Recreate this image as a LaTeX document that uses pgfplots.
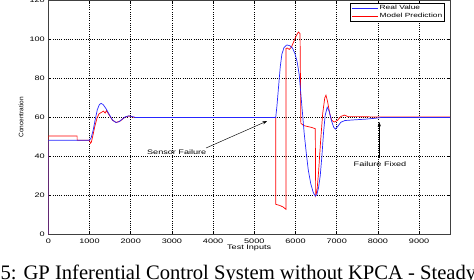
\documentclass[border=0pt]{standalone}
\usepackage{fontspec}
\usepackage{pgfplots}
\pgfplotsset{compat=1.18}
\usetikzlibrary{arrows.meta}
\newfontfamily\mlfont[FakeStretch=1.4]{Liberation Sans}
\newfontfamily\mlplain{Liberation Sans}
\newfontfamily\capfont{Liberation Serif}
\begin{document}
\begin{tikzpicture}[x=1pt,y=1pt]
\path[use as bounding box] (0,0) rectangle (474,279);
\clip (0,0) rectangle (474,279);
\begin{axis}[
  at={(48.3pt,44.7pt)}, anchor=south west,
  width=401.7pt, height=233.8pt, scale only axis,
  xmin=0, xmax=9750, ymin=0, ymax=120,
  xtick={0,1000,...,9000}, ytick={0,20,...,120},
  scaled x ticks=false, scaled y ticks=false,
  /pgf/number format/1000 sep={},
  /pgf/number format/assume math mode=true,
  tick label style={font=\mlfont\fontsize{6.5}{7}\selectfont},
  xticklabel style={yshift=-1.5pt},
  grid=major,
  major grid style={black, dash pattern=on 0.5pt off 1.7pt, line width=0.45pt},
  tick align=inside, major tick length=3pt,
  tick style={black, line width=0.5pt},
  axis line style={black!75, line width=1pt},
  xlabel={Test Inputs},
  xlabel style={font=\mlfont\fontsize{6.5}{7}\selectfont, at={(axis description cs:0.5,-0.06)}, anchor=center},
  ylabel={Concentration},
  ylabel style={font=\mlplain\fontsize{6.5}{7}\selectfont, at={(axis description cs:-0.068,0.5)}, anchor=center},
  reverse legend,
  legend cell align=left,
  legend style={at={(axis description cs:0.9875,0.988)}, anchor=north east,
    draw=black, fill=white, line width=0.5pt,
    font=\mlfont\fontsize{6}{6.5}\selectfont,
    inner xsep=1.5pt, inner ysep=1pt,
    nodes={inner sep=1pt}},
  legend image code/.code={\draw[#1, line width=0.6pt] (0pt,0pt) -- (26pt,0pt);},
]
\addplot[red, line width=0.7pt] coordinates {
(0,0) (0,50.5) (700,50.5) (700,48.3) (1000,48.3) (1020,46.7) (1045,47.3) (1080,50.5)
(1130,55.5) (1180,59.5) (1230,61.8) (1290,62.6) (1340,63.2) (1380,62.2) (1410,63.5)
(1440,62.5) (1500,60.5) (1560,58.5) (1650,57.4) (1750,58.2) (1850,60) (1950,60.7)
(2050,60.2) (2150,59.9) (2250,60) (5520,60) (5520,15.4) (5620,14.8) (5700,14)
(5740,13.3) (5770,12.8) (5770,95.4) (5800,95.6) (5850,94.9) (5900,96) (5960,99)
(6020,102) (6070,103.8) (6110,103) (6130,57) (6200,55.8) (6300,55.3) (6400,54.8)
(6480,54.2) (6490,20) (6520,22) (6560,32) (6610,48) (6660,62) (6710,70) (6740,71.4)
(6780,68) (6830,62) (6880,58.5) (6940,57.6) (7020,58.5) (7100,60.5) (7190,61.2)
(7270,60.4) (7500,60.4) (8000,60.2) (9750,60.2)
};
\addlegendentry{Model Prediction}
\addplot[blue!85!white, line width=0.7pt] coordinates {
(0,0) (0,48.3) (1000,48.3) (1040,49.5) (1090,53.5) (1140,59) (1190,64) (1240,66.6)
(1280,67.2) (1330,66.6) (1400,64.5) (1480,61.5) (1560,58.6) (1640,57.4) (1720,57.8)
(1800,59.2) (1880,60.4) (1960,60.8) (2040,60.4) (2120,59.9) (2250,60) (5520,60)
(5550,66) (5590,76) (5630,86) (5670,92.5) (5720,95.8) (5790,97.2) (5860,96.8)
(5930,95.5) (5990,92.5) (6040,88.5) (6090,82) (6130,72) (6170,62) (6210,52)
(6260,42) (6310,33) (6370,26) (6430,21.5) (6480,19.6) (6520,20.5) (6560,24)
(6600,30) (6640,40) (6680,52) (6720,61) (6770,65.2) (6820,63) (6870,58.5)
(6930,54.8) (6970,54) (7030,55.5) (7100,57.5) (7200,58.4) (7400,58.7) (7700,59.1)
(7950,59.6) (8100,60) (9750,60)
};
\addlegendentry{Real Value}
\draw[black, line width=0.45pt, -{Stealth[length=4.5pt,width=3.2pt]}] (axis cs:3828,44.3) -- (axis cs:5308,58.1);
\node[font=\mlfont\fontsize{6.5}{7}\selectfont, inner sep=0pt] at (axis cs:3117,42.4) {Sensor Failure};
\draw[black, line width=0.45pt, -{Stealth[length=4.5pt,width=3.2pt]}] (axis cs:8034,39) -- (axis cs:8034,57.6);
\node[font=\mlfont\fontsize{6.5}{7}\selectfont, inner sep=0pt] at (axis cs:8051,36) {Failure Fixed};
\end{axis}
\node[anchor=base west, inner sep=0pt, font=\capfont\fontsize{20.6}{24}\selectfont] at (0.5,0) {\llap{Figure~}5: GP Inferential Control System without KPCA - Steady State};
\end{tikzpicture}
\end{document}
